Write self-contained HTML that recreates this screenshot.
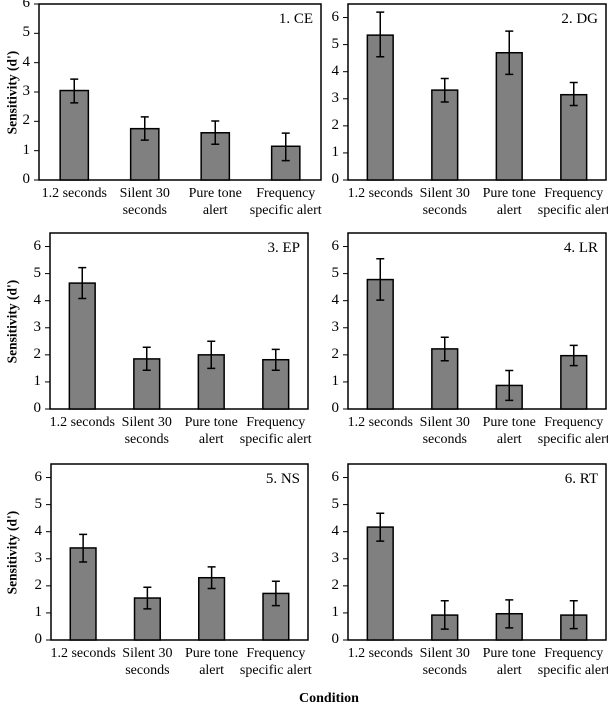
<!DOCTYPE html>
<html><head><meta charset="utf-8"><style>
html,body{margin:0;padding:0;background:#fff;}
#wrap{position:relative;width:608px;height:707px;overflow:hidden;font-family:"Liberation Serif","Times New Roman",serif;}
svg{position:absolute;left:0;top:0;display:block;}
.lbl{position:absolute;white-space:nowrap;font-family:"Liberation Serif","Times New Roman",serif;font-size:14px;line-height:17px;color:#000;}
</style></head><body>
<div id="wrap">
<svg id="chart" width="608" height="707" viewBox="0 0 608 707" xmlns="http://www.w3.org/2000/svg"></svg>
</div>
<script>
const categories = [["1.2 seconds"],["Silent 30","seconds"],["Pure tone","alert"],["Frequency","specific alert"]];
const panelTitles = ["1. CE","2. DG","3. EP","4. LR","5. NS","6. RT"];
const meanCE = [3.05,1.75,1.61,1.15];
const upCE = [3.44,2.15,2.01,1.6];
const loCE = [2.63,1.36,1.22,0.66];
const meanDG = [5.35,3.32,4.7,3.15];
const upDG = [6.2,3.75,5.5,3.6];
const loDG = [4.55,2.88,3.9,2.75];
const meanEP = [4.65,1.85,2.0,1.82];
const upEP = [5.22,2.28,2.5,2.2];
const loEP = [4.08,1.43,1.5,1.43];
const meanLR = [4.78,2.22,0.87,1.97];
const upLR = [5.55,2.65,1.42,2.35];
const loLR = [4.02,1.78,0.32,1.6];
const meanNS = [3.4,1.55,2.3,1.72];
const upNS = [3.9,1.95,2.7,2.17];
const loNS = [2.88,1.15,1.9,1.27];
const meanRT = [4.17,0.92,0.97,0.92];
const upRT = [4.68,1.45,1.48,1.45];
const loRT = [3.65,0.4,0.45,0.42];
const yTicks = [0,1,2,3,4,5,6];
const yMaxes = [6,6.5,6.5,6.5,6.5,6.5];

const svg = document.getElementById('chart');
const wrap = document.getElementById('wrap');
const NS = 'http://www.w3.org/2000/svg';
function mk(tag, attrs, parent){const e=document.createElementNS(NS,tag);for(const k in attrs)e.setAttribute(k,attrs[k]);parent.appendChild(e);return e;}
function label(text, x, y, align, extra){
  const d=document.createElement('div');
  d.className='lbl';
  d.textContent=text;
  d.style.top=(y)+'px';
  if(align==='end'){d.style.right=(608-x)+'px';}
  else if(align==='middle'){d.style.left=(x-100)+'px';d.style.width='200px';d.style.textAlign='center';}
  else d.style.left=x+'px';
  if(extra)Object.assign(d.style,extra);
  wrap.appendChild(d);
  return d;
}

const layouts = [
  {l:39,r:321,t:4,b:180},{l:348,r:606,t:4,b:180},
  {l:50,r:308,t:233,b:409},{l:348,r:606,t:233,b:409},
  {l:51,r:308,t:464,b:640},{l:348,r:606,t:464,b:640}
];
const means=[meanCE,meanDG,meanEP,meanLR,meanNS,meanRT];
const ups=[upCE,upDG,upEP,upLR,upNS,upRT];
const los=[loCE,loDG,loEP,loLR,loNS,loRT];

layouts.forEach((L,p)=>{
  const g=mk('g',{},svg);
  
  
  const y=v=>L.b-(v/yMaxes[p])*(L.b-L.t);
  const cw=(L.r-L.l)/categories.length;
  const x=i=>L.l+cw*(i+0.5);
  const frame=mk('rect',{x:L.l,y:L.t,width:L.r-L.l,height:L.b-L.t,fill:'none',stroke:'#000','stroke-width':1.5},g);
  
  
  yTicks.forEach(t=>{
    mk('line',{x1:L.l-5,x2:L.l,y1:y(t),y2:y(t),stroke:'#000','stroke-width':1},g);
    const tx=label(String(t), L.l-9, y(t)-9, 'end', {fontSize:'15px'});
    
    
  });
  const bw=cw*0.4;
  means[p].forEach((m,i)=>{
    const b=mk('rect',{x:x(i)-bw/2,y:y(m),width:bw,height:L.b-y(m),fill:'#808080',stroke:'#000','stroke-width':1.5},g);
    
    
    const e=mk('path',{d:`M${x(i)},${y(ups[p][i])}V${y(los[p][i])}M${x(i)-4},${y(ups[p][i])}H${x(i)+4}M${x(i)-4},${y(los[p][i])}H${x(i)+4}`,stroke:'#000','stroke-width':1.5,fill:'none'},g);
    
    
    categories[i].forEach((ln,k)=>{
      const t=label(ln, x(i), L.b+5+k*17, 'middle');
      
      
    });
  });
  const ti=label(panelTitles[p], L.r-8, L.t+7, 'end', {fontSize:'15px'});
  
  
  if(p%2===0){
    const cy=(L.t+L.b)/2;
    const yl=label("Sensitivity (d')", 12, cy-8, 'middle', {fontWeight:'bold',fontSize:'13.5px',transform:'rotate(-90deg)'});
    
    
  }
});
const xt=label('Condition', 329, 690, 'middle', {fontWeight:'bold'});


</script>
</body></html>
